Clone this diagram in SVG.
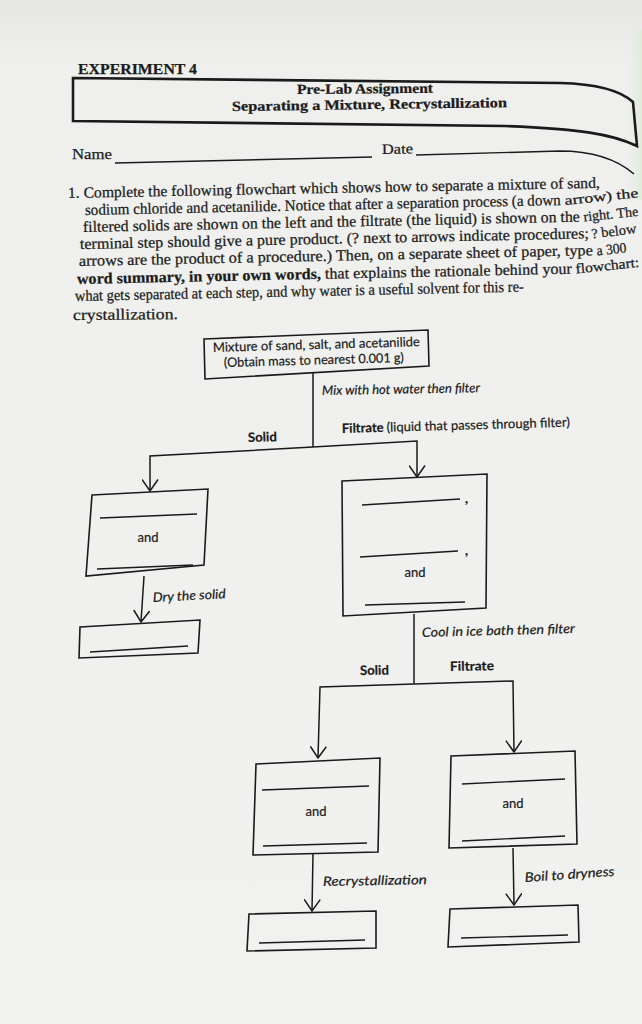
<svg xmlns="http://www.w3.org/2000/svg" width="642" height="1024" viewBox="0 0 642 1024">
  <defs>
    <linearGradient id="page" x1="0" y1="0" x2="0" y2="1">
      <stop offset="0" stop-color="#e6e6e4"/>
      <stop offset="0.06" stop-color="#efefed"/>
      <stop offset="1" stop-color="#f1f1ef"/>
    </linearGradient>
    <linearGradient id="edge" x1="0" y1="0" x2="1" y2="0">
      <stop offset="0" stop-color="#e3eee0" stop-opacity="0"/>
      <stop offset="1" stop-color="#d6e9d0" stop-opacity="0.6"/>
    </linearGradient>
    <marker id="v" viewBox="0 0 13 17" refX="12" refY="8.5" markerWidth="13" markerHeight="17" orient="auto" markerUnits="userSpaceOnUse">
      <path d="M0.5,0.5 L12,8.5 L0.5,16.5" fill="none" stroke="#1a1a1a" stroke-width="1.5"/>
    </marker>
    <style>
      .serif { font-family: "Liberation Serif", "Times New Roman", serif; fill: #1c1c1c; stroke: #1c1c1c; stroke-width: 0.25; }
      .hb { font-weight: bold; }
      .para { font-size: 15.5px; }
      .fc { font-family: Lato, "Open Sans", "Liberation Sans", sans-serif; fill: #1a1a1a; stroke: #1a1a1a; stroke-width: 0.2; font-size: 13px; }
      .lbl { font-weight: bold; }
      .it { font-style: italic; }
      .box { fill: none; stroke: #1a1a1a; stroke-width: 1.6; stroke-linejoin: miter; }
      .blank { fill: none; stroke: #1a1a1a; stroke-width: 1.4; }
      .edge { fill: none; stroke: #1a1a1a; stroke-width: 1.5; }
    </style>
  </defs>

  <rect x="0" y="0" width="642" height="1024" fill="url(#page)"/>
  <rect x="626" y="30" width="16" height="170" fill="url(#edge)"/>

  <g id="header">
    <text class="serif hb" x="78" y="74" font-size="15" textLength="119" lengthAdjust="spacingAndGlyphs">EXPERIMENT 4</text>
  </g>

  <g id="banner">
    <path d="M73,78 L560,83 C600,84 622,92 633,102 L637,146 C612,134 580,129 505,126 L73,121 Z" fill="none" stroke="#1a1a1a" stroke-width="2.6"/>
    <text class="serif hb" x="297" y="94" font-size="14" textLength="136" lengthAdjust="spacingAndGlyphs" transform="rotate(-0.5 297 94)">Pre-Lab Assignment</text>
    <text class="serif hb" x="232" y="111" font-size="14" textLength="275" lengthAdjust="spacingAndGlyphs" transform="rotate(-0.8 232 111)">Separating a Mixture, Recrystallization</text>
  </g>

  <g id="name-date">
    <text class="serif" x="72" y="159" font-size="15" textLength="40" lengthAdjust="spacingAndGlyphs">Name</text>
    <path d="M115,163 L372,157" class="blank"/>
    <text class="serif" x="382" y="154" font-size="14.5" textLength="31" lengthAdjust="spacingAndGlyphs" transform="rotate(-1 382 154)">Date</text>
    <path d="M416,155 L560,151 C598,151 620,162 634,174" class="blank"/>
  </g>

  <g id="instructions" class="serif para">
    <text x="68" y="198" textLength="532" lengthAdjust="spacingAndGlyphs" transform="rotate(-1.1 68 198)">1. Complete the following flowchart which shows how to separate a mixture of sand,</text>
    <text x="85" y="215" textLength="476" lengthAdjust="spacingAndGlyphs" transform="rotate(-1.2 85 215)">sodium chloride and acetanilide. Notice that after a separation process (a down</text>
    <text x="565" y="205" font-size="13.5" textLength="74" lengthAdjust="spacingAndGlyphs" transform="rotate(-6 565 205)">arrow) the</text>
    <text x="83" y="232" textLength="497" lengthAdjust="spacingAndGlyphs" transform="rotate(-1.2 83 232)">filtered solids are shown on the left and the filtrate (the liquid) is shown on the</text>
    <text x="584" y="221.5" font-size="14" textLength="55" lengthAdjust="spacingAndGlyphs" transform="rotate(-6 584 221.5)">right. The</text>
    <text x="80" y="249" textLength="509" lengthAdjust="spacingAndGlyphs" transform="rotate(-1.2 80 249)">terminal step should give a pure product. (? next to arrows indicate procedures;</text>
    <text x="592" y="238.5" font-size="14" textLength="45" lengthAdjust="spacingAndGlyphs" transform="rotate(-7 592 238.5)">? below</text>
    <text x="79" y="266" textLength="514" lengthAdjust="spacingAndGlyphs" transform="rotate(-1.2 79 266)">arrows are the product of a procedure.) Then, on a separate sheet of paper, type</text>
    <text x="597" y="255.5" font-size="14.5" textLength="30" lengthAdjust="spacingAndGlyphs" transform="rotate(-6 597 255.5)">a 300</text>
    <text x="77" y="284" textLength="495" lengthAdjust="spacingAndGlyphs" transform="rotate(-1.2 77 284)"><tspan class="hb">word summary, in your own words,</tspan> that explains the rationale behind your</text>
    <text x="576" y="273.5" font-size="14" textLength="64" lengthAdjust="spacingAndGlyphs" transform="rotate(-6 576 273.5)">flowchart:</text>
    <text x="75" y="301" textLength="449" lengthAdjust="spacingAndGlyphs" transform="rotate(-1.2 75 301)">what gets separated at each step, and why water is a useful solvent for this re-</text>
    <text x="73" y="320" textLength="105" lengthAdjust="spacingAndGlyphs" transform="rotate(-0.5 73 320)">crystallization.</text>
  </g>

  <g id="connectors">
    <path class="edge" d="M313,372 L313,447"/>
    <path class="edge" d="M313,447 L150,456 L150,491" marker-end="url(#v)"/>
    <path class="edge" d="M313,447 L417,441 L417,477" marker-end="url(#v)"/>
    <path class="edge" d="M144,576 L141,622" marker-end="url(#v)"/>
    <path class="edge" d="M414,614 L414,684"/>
    <path class="edge" d="M414,684 L320,687 L318,758" marker-end="url(#v)"/>
    <path class="edge" d="M414,684 L513,681 L514,752" marker-end="url(#v)"/>
    <path class="edge" d="M313,853 L312,911" marker-end="url(#v)"/>
    <path class="edge" d="M513,848 L514,905" marker-end="url(#v)"/>

    <text class="fc it" x="322" y="395" textLength="158" lengthAdjust="spacingAndGlyphs" transform="rotate(-1 322 395)">Mix with hot water then filter</text>
    <text class="fc lbl" x="248" y="442" textLength="29" lengthAdjust="spacingAndGlyphs" transform="rotate(-1.5 248 442)">Solid</text>
    <text class="fc lbl" x="342" y="433" textLength="228" lengthAdjust="spacingAndGlyphs" transform="rotate(-1.6 342 433)">Filtrate <tspan font-weight="normal">(liquid that passes through filter)</tspan></text>
    <text class="fc it" x="153" y="602" textLength="73" lengthAdjust="spacingAndGlyphs" transform="rotate(-3 153 602)">Dry the solid</text>
    <text class="fc it" x="422" y="637" textLength="153" lengthAdjust="spacingAndGlyphs" transform="rotate(-1.5 422 637)">Cool in ice bath then filter</text>
    <text class="fc lbl" x="360" y="675" textLength="29" lengthAdjust="spacingAndGlyphs" transform="rotate(-1 360 675)">Solid</text>
    <text class="fc lbl" x="450" y="671" textLength="44" lengthAdjust="spacingAndGlyphs" transform="rotate(-1 450 671)">Filtrate</text>
    <text class="fc it" x="323" y="886" textLength="104" lengthAdjust="spacingAndGlyphs" transform="rotate(-1 323 886)">Recrystallization</text>
    <text class="fc it" x="525" y="882" textLength="90" lengthAdjust="spacingAndGlyphs" transform="rotate(-4 525 882)">Boil to dryness</text>
  </g>

  <g id="n-mixture">
    <polygon class="box" points="204,339 428,330 429,366 205,379"/>
    <text class="fc" x="316.5" y="349" text-anchor="middle" textLength="207" lengthAdjust="spacingAndGlyphs" transform="rotate(-1.6 316.5 349)">Mixture of sand, salt, and acetanilide</text>
    <text class="fc" x="314" y="364.5" text-anchor="middle" textLength="180" lengthAdjust="spacingAndGlyphs" transform="rotate(-1.6 314 364.5)">(Obtain mass to nearest 0.001 g)</text>
  </g>

  <g id="n-solid-1">
    <polygon class="box" points="92,495 208,489 204,565 86,576"/>
    <path class="blank" d="M100,518 L197,514"/>
    <text class="fc" x="148" y="542" text-anchor="middle">and</text>
    <path class="blank" d="M97,569 L193,565"/>
  </g>

  <g id="n-dry">
    <polygon class="box" points="80,627 200,620 198,653 79,658"/>
    <path class="blank" d="M90,652 L188,646"/>
  </g>

  <g id="n-filtrate-1">
    <polygon class="box" points="342,481 487,474 486,608 343,616"/>
    <path class="blank" d="M362,505 L460,499"/>
    <text class="fc" x="465" y="503" font-size="15" font-weight="bold">,</text>
    <path class="blank" d="M360,557 L458,551"/>
    <text class="fc" x="465" y="555" font-size="15" font-weight="bold">,</text>
    <text class="fc" x="415" y="577" text-anchor="middle">and</text>
    <path class="blank" d="M365,605 L465,602"/>
  </g>

  <g id="n-solid-2">
    <polygon class="box" points="256,764 380,758 378,852 253,855"/>
    <path class="blank" d="M262,790 L369,786"/>
    <text class="fc" x="316" y="816" text-anchor="middle">and</text>
    <path class="blank" d="M263,846 L367,843"/>
  </g>

  <g id="n-filtrate-2">
    <polygon class="box" points="451,756 575,751 577,844 449,848"/>
    <path class="blank" d="M462,784 L565,779"/>
    <text class="fc" x="513" y="808" text-anchor="middle">and</text>
    <path class="blank" d="M462,841 L565,836"/>
  </g>

  <g id="n-recrystallized">
    <polygon class="box" points="249,914 376,911 376,948 247,951"/>
    <path class="blank" d="M259,943 L365,940"/>
  </g>

  <g id="n-boiled">
    <polygon class="box" points="450,909 578,905 579,942 448,947"/>
    <path class="blank" d="M461,938 L568,935"/>
  </g>
</svg>
